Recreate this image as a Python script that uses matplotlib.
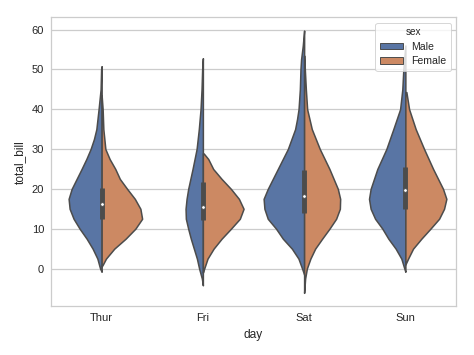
import colorsys
import matplotlib
matplotlib.use("Agg")
import matplotlib.pyplot as plt
import matplotlib.patches as mpatches
import numpy as np

# half-violin profiles: y levels (total_bill) and half widths (x units)
days = ["Thur", "Fri", "Sat", "Sun"]
hues = ["Male", "Female"]

thur_y_m = [50.8, 50, 45, 40, 35, 32.5, 30, 27.5, 25, 22.5, 20, 17.5, 15, 12.5, 10, 7.5, 5, 2.5, 0, -0.8]
thur_w_m = [0, .005, .010, .030, .052, .076, .109, .151, .198, .247, .296, .326, .316, .277, .217, .148, .089, .042, .015, 0]
thur_y_f = [43.5, 40, 35, 30, 27.5, 25, 22.5, 20, 17.5, 15, 12.5, 10, 7.5, 5, 2.5, 1, 0.5]
thur_w_f = [0, .010, .017, .037, .079, .135, .180, .252, .328, .383, .400, .333, .237, .125, .043, .012, 0]

fri_y_m = [52.8, 50, 45, 40, 35, 30, 25, 20, 17.5, 15, 12.5, 10, 7.5, 5, 2.5, 0, -2.5, -4.2]
fri_w_m = [0, .007, .013, .023, .040, .062, .102, .145, .161, .171, .168, .145, .119, .089, .059, .037, .010, 0]
fri_y_f = [28.9, 28.9, 27.5, 25, 22.5, 20, 17.5, 15, 12.5, 10, 7.5, 5, 2.5, 0, -1]
fri_w_f = [0, .008, .053, .102, .185, .277, .356, .402, .365, .277, .185, .106, .046, .013, 0]

sat_y_m = [59.75, 56, 52.5, 50, 45, 40, 37.5, 35, 30, 25, 20, 17.5, 15, 12.5, 10, 7.5, 5, 2.5, 0, -1.5]
sat_w_m = [0, .013, .030, .036, .042, .055, .070, .089, .161, .260, .359, .400, .392, .359, .277, .210, .121, .056, .020, 0]
sat_y_f = [53.5, 50, 45, 40, 35, 30, 25, 20, 17.5, 15, 12.5, 10, 7.5, 5, 2.5, 0, -2.5, -6.1]
sat_w_f = [0, .007, .017, .030, .076, .155, .250, .333, .356, .353, .316, .250, .178, .109, .062, .027, .010, 0]

sun_y_m = [56, 50, 45, 40, 35, 30, 25, 20, 17.5, 15, 12.5, 10, 7.5, 5, 2.5, 0, -0.8]
sun_w_m = [0, .020, .030, .052, .119, .188, .277, .343, .359, .343, .299, .227, .168, .096, .040, .010, 0]
sun_y_f = [44.3, 44.3, 40, 35, 30, 25, 20, 17.5, 15, 12.5, 10, 7.5, 5, 2.5, 1]
sun_w_f = [0, .010, .037, .102, .185, .274, .372, .405, .382, .333, .247, .158, .076, .027, 0]

q1 = [12.44, 12.10, 13.91, 14.99]
median = [16.20, 15.38, 18.24, 19.63]
q3 = [20.16, 21.75, 24.74, 25.60]

profiles = [
    ((thur_y_m, thur_w_m), (thur_y_f, thur_w_f)),
    ((fri_y_m, fri_w_m), (fri_y_f, fri_w_f)),
    ((sat_y_m, sat_w_m), (sat_y_f, sat_w_f)),
    ((sun_y_m, sun_w_m), (sun_y_f, sun_w_f)),
]


def desaturate(c, prop):
    rgb = matplotlib.colors.to_rgb(c)
    h, l, s = colorsys.rgb_to_hls(*rgb)
    return colorsys.hls_to_rgb(h, l, s * prop)


colors = [desaturate("#4C72B0", .75), desaturate("#DD8452", .75)]
lum = min(colorsys.rgb_to_hls(*c)[1] for c in colors) * .6
gray = (lum, lum, lum)
text_col = "#262626"

plt.rcParams["font.family"] = ["Liberation Sans", "DejaVu Sans"]

fig = plt.figure(figsize=(4.74, 3.55), dpi=100)
ax = fig.add_axes([0.1076, 0.138, 0.8544, 0.813])
ax.set_axisbelow(True)

lw = 1.1
for i, (male, female) in enumerate(profiles):
    ym, wm = np.array(male[0]), np.array(male[1])
    yf, wf = np.array(female[0]), np.array(female[1])
    ax.fill_betweenx(ym, i, i - wm, facecolor=colors[0], edgecolor=gray, linewidth=lw, zorder=1)
    ax.fill_betweenx(yf, i, i + wf, facecolor=colors[1], edgecolor=gray, linewidth=lw, zorder=1)
    ax.plot([i, i], [q1[i], q3[i]], color=gray, linewidth=lw * 3.2, solid_capstyle="butt", zorder=2)
    ax.scatter([i], [median[i]], s=7, color="white", edgecolor=gray, linewidth=0.6, zorder=3)

ax.set_xlim(-0.5, 3.5)
ax.set_ylim(-9.4, 63.05)
ax.set_xticks(range(len(days)))
ax.set_xticklabels(days)
ax.set_yticks(range(0, 61, 10))
ax.tick_params(axis="both", length=0, labelsize=8, colors=text_col, pad=5)
ax.yaxis.grid(True, color="#cccccc", linewidth=0.9)
ax.xaxis.grid(False)
for sp in ax.spines.values():
    sp.set_color("#cccccc")
    sp.set_linewidth(0.9)

ax.set_xlabel("day", fontsize=8.6, color=text_col, labelpad=4)
ax.set_ylabel("total_bill", fontsize=8.6, color=text_col, labelpad=4)

handles = [mpatches.Rectangle((0, 0), 0, 0, facecolor=colors[k], edgecolor=gray, linewidth=0.7, label=hues[k])
           for k in range(2)]
leg = ax.legend(handles=handles, title="sex", loc="upper right", fontsize=7.6, title_fontsize=7.2,
                frameon=True, framealpha=0.8, edgecolor="#cccccc", handlelength=2.2, handleheight=0.6,
                borderaxespad=0.5, labelspacing=0.45)
leg.get_frame().set_linewidth(0.7)
for t in leg.get_texts():
    t.set_color(text_col)
leg.get_title().set_color(text_col)

fig.savefig("out.png", dpi=100)
